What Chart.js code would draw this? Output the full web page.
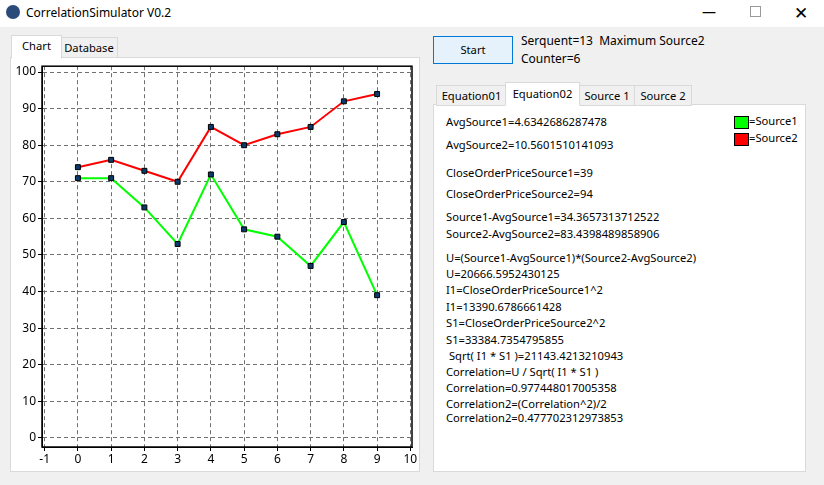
<!DOCTYPE html>
<html><head><meta charset="utf-8">
<script src="https://cdn.jsdelivr.net/npm/chart.js@4"></script>
<style>
body{margin:0;width:824px;height:485px;background:#f0f0f0;font-family:"Noto Sans",sans-serif;font-size:11.2px;position:relative;overflow:hidden;color:#000}
.a{position:absolute;white-space:nowrap}
#title{left:0;top:0;width:824px;height:27px;background:#fff}
.tab{position:absolute;border:1px solid #d9d9d9;background:#f0f0f0;text-align:center;line-height:19px;height:19px}
.ln{position:absolute;left:446px;white-space:nowrap}
</style></head><body>
<div class="a" id="title"></div>
<div class="a" style="left:6px;top:5px;width:14px;height:14px;border-radius:7px;background:#2a4a7a"></div>
<div class="a" style="left:26px;top:4px;font-size:12px">CorrelationSimulator V0.2</div>
<div class="a" style="left:702px;top:2px;font-size:14px">—</div>
<div class="a" style="left:750px;top:6px;width:9px;height:9px;border:1px solid #999"></div>
<div class="a" style="left:794px;top:1px;font-size:17px">✕</div>

<div class="tab" style="left:60px;top:37px;width:56px">Database</div>
<div class="a" style="left:10px;top:57px;width:410px;height:415px;background:#fff;border:1px solid #d9d9d9;box-sizing:border-box"></div>
<div class="tab" style="left:11px;top:35px;width:49px;height:22px;line-height:20px;background:#fff;border-bottom:1px solid #fff">Chart</div>
<div class="a" style="left:10px;top:57px;width:410px;height:415px"><canvas id="c" width="410" height="415"></canvas></div>

<div class="a" style="left:433px;top:36px;width:80px;height:28px;background:#e5f1fb;border:1px solid #0078d7;box-sizing:border-box;text-align:center;line-height:26px">Start</div>
<div class="a" style="left:521px;top:32px;font-size:12px">Serquent=13&nbsp; Maximum Source2</div>
<div class="a" style="left:521px;top:50px;font-size:12px">Counter=6</div>

<div class="a" style="left:433px;top:104px;width:373px;height:368px;background:#fff;border:1px solid #d9d9d9;box-sizing:border-box"></div>
<div class="tab" style="left:436px;top:85px;width:69px">Equation01</div>
<div class="tab" style="left:578px;top:85px;width:56px">Source 1</div>
<div class="tab" style="left:634px;top:85px;width:56px">Source 2</div>
<div class="tab" style="left:505px;top:82px;width:73px;height:22px;line-height:22px;background:#fff;border-bottom:1px solid #fff">Equation02</div>

<div class="a" style="left:734px;top:116px;width:13px;height:11px;background:#00ff00;border:1px solid #000"></div>
<div class="a" style="left:749px;top:113px">=Source1</div>
<div class="a" style="left:734px;top:133px;width:13px;height:11px;background:#ff0000;border:1px solid #000"></div>
<div class="a" style="left:749px;top:130px">=Source2</div>
<div id="txt"></div>

<script>
const xTicks=[-1,0,1,2,3,4,5,6,7,8,9,10];
const yTicks=[0,10,20,30,40,50,60,70,80,90,100];
const xIdx=[0,1,2,3,4,5,6,7,8,9];
const source1=[71,71,63,53,72,57,55,47,59,39];
const source2=[74,76,73,70,85,80,83,85,92,94];
const lines=[
["AvgSource1=4.6342686287478",114],["AvgSource2=10.5601510141093",137],
["CloseOrderPriceSource1=39",165],["CloseOrderPriceSource2=94",186],
["Source1-AvgSource1=34.3657313712522",209],["Source2-AvgSource2=83.4398489858906",226],
["U=(Source1-AvgSource1)*(Source2-AvgSource2)",250],["U=20666.5952430125",266],
["I1=CloseOrderPriceSource1^2",282],["I1=13390.6786661428",299],
["S1=CloseOrderPriceSource2^2",315],["S1=33384.7354795855",332],
["&nbsp;Sqrt( I1 * S1 )=21143.4213210943",348],["Correlation=U / Sqrt( I1 * S1 )",364],
["Correlation=0.977448017005358",380],["Correlation2=(Correlation^2)/2",396],
["Correlation2=0.477702312973853",410]];
document.getElementById('txt').innerHTML=lines.map(l=>`<div class="ln" style="top:${l[1]}px">${l[0]}</div>`).join('');

const mk=(d,c)=>({data:xIdx.map((x,i)=>({x,y:d[i]})),showLine:true,borderColor:c,borderWidth:2,pointStyle:'rect',pointRadius:3.5,pointBackgroundColor:'#0b3a6b',pointBorderColor:'#000',pointBorderWidth:1,tension:0});
const grid={color:'#707070',lineWidth:1,drawTicks:true,tickLength:4,tickColor:'#000'};
const border={color:'#000',width:1,dash:[4,3]};
new Chart(document.getElementById('c'),{type:'scatter',
data:{datasets:[mk(source2,'#ff0000'),mk(source1,'#00ff00')]},
options:{responsive:false,animation:false,layout:{padding:{top:7,right:8,left:0,bottom:0}},
plugins:{legend:{display:false},tooltip:{enabled:false}},
scales:{
x:{type:'linear',min:-1.08,max:10.05,afterBuildTicks:s=>{s.ticks=xTicks.map(v=>({value:v}))},afterFit:s=>{s.height=25},
 grid,border,ticks:{color:'#000',font:{family:'Noto Sans',size:12},padding:1}},
y:{min:-2.5,max:101.6,afterBuildTicks:s=>{s.ticks=yTicks.map(v=>({value:v}))},afterFit:s=>{s.width=32},
 grid,border,ticks:{color:'#000',font:{family:'Noto Sans',size:12},padding:2}}
}},
plugins:[{id:'box',afterDraw(c){const a=c.chartArea,g=c.ctx;g.save();g.strokeStyle='#000';g.lineWidth=1.5;g.strokeRect(a.left,a.top,a.right-a.left,a.bottom-a.top);g.restore();}}]
});
</script></body></html>
